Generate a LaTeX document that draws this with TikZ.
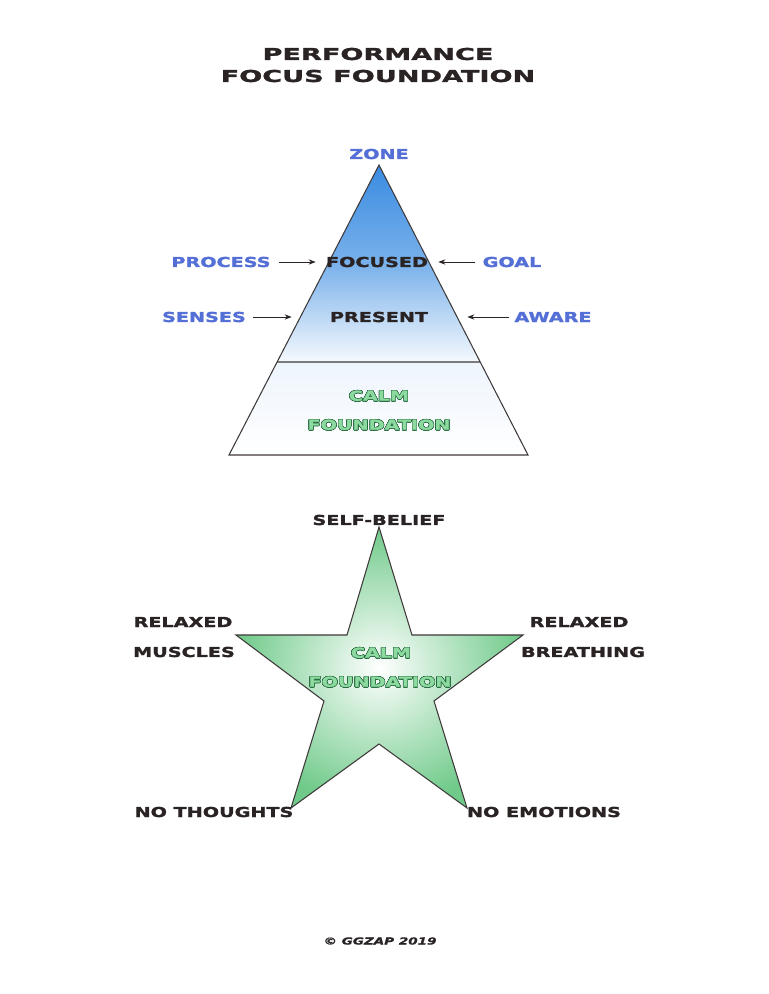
\documentclass[tikz,border=0pt]{standalone}
\usepackage{fontspec}
\usepackage{contour}
\usetikzlibrary{arrows.meta}
\newfontfamily\techfont{DejaVu Sans}[FakeStretch=1.4, BoldFeatures={FakeBold=1.6}, BoldItalicFeatures={FakeBold=1}]
\newfontfamily\titlefont{DejaVu Sans}[FakeStretch=1.66, BoldFeatures={FakeBold=1.8}]
\definecolor{inkdark}{RGB}{42,35,36}
\definecolor{zoneblue}{RGB}{84,112,214}
\definecolor{pyrblue}{RGB}{58,140,225}
\definecolor{calmfill}{RGB}{140,218,160}
\definecolor{calmedge}{RGB}{38,105,62}
\definecolor{stargreen}{RGB}{112,202,138}
\contourlength{0.3pt}
\tikzset{
  word/.style={inner sep=0pt, text=inkdark, font=\techfont\bfseries\fontsize{7.8}{9}\selectfont},
  bluword/.style={word, text=zoneblue},
  calmword/.style={word, text=calmfill},
  titleword/.style={inner sep=0pt, text=inkdark, font=\titlefont\bfseries\fontsize{9.3}{11}\selectfont},
  pointer/.style={-{Stealth[length=4pt,width=3pt]}, inkdark, line width=0.5pt},
  outline/.style={draw=inkdark!90, line width=0.6pt, line join=miter}
}

\begin{document}
\begin{tikzpicture}[x=0.02cm, y=-0.02cm]
  \useasboundingbox (0,0) rectangle (768,994);
  \fill [white] (0,0) rectangle (768,994);

  \node [titleword] (title1) at (378,54) {PERFORMANCE};
  \node [titleword] (title2) at (378,76) {FOCUS FOUNDATION};

  % pyramid
  \shade [top color=pyrblue, bottom color=pyrblue!5, middle color=pyrblue!68] (379,165) -- (277,362) -- (480,362) -- cycle;
  \shade [top color=pyrblue!9, bottom color=white] (277,362) -- (229,455) -- (528,455) -- (480,362) -- cycle;
  \draw [outline] (379,165) -- (229,455) -- (528,455) -- cycle (277,362) -- (480,362);

  \node [bluword] (zone) at (379,154) {ZONE};
  \node [word] (focused) at (377,262) {FOCUSED};
  \node [word] (present) at (379,317) {PRESENT};
  \node [bluword] (process) at (221,262) {PROCESS};
  \node [bluword] (goal) at (512,262) {GOAL};
  \node [bluword] (senses) at (204,317) {SENSES};
  \node [bluword] (aware) at (553,317) {AWARE};
  \node [calmword] (calm) at (379,396) {\contour{calmedge}{CALM}};
  \node [calmword] (foundation) at (379,425) {\contour{calmedge}{FOUNDATION}};

  \draw [pointer, shorten <=1.6mm, shorten >=2mm] (process) -- (focused);
  \draw [pointer, shorten <=1.4mm, shorten >=2mm] (goal) -- (focused);
  \draw [pointer, shorten <=1.4mm, shorten >=7.6mm] (senses) -- (present);
  \draw [pointer, shorten <=1mm, shorten >=7.8mm] (aware) -- (present);

  % star
  \shade [inner color=white, outer color=stargreen] (379,527) -- (412,635) -- (523,635) -- (434,701) -- (467,808) -- (379,744) -- (291,808) -- (324,701) -- (236,635) -- (347,635) -- cycle;
  \draw [outline] (379,527) -- (412,635) -- (523,635) -- (434,701) -- (467,808) -- (379,744) -- (291,808) -- (324,701) -- (236,635) -- (347,635) -- cycle;

  \foreach \name/\pos/\txt in {selfbelief/{379,520}/SELF-BELIEF, relaxedl/{183,622}/RELAXED, muscles/{184,652}/MUSCLES,
      relaxedr/{579,622}/RELAXED, breathing/{583,652}/BREATHING, nothoughts/{214,812}/NO THOUGHTS, noemotions/{544,812}/NO EMOTIONS} {
    \node [word] (\name) at (\pos) {\txt};
  }
  \node [calmword] (starcalm) at (381,653) {\contour{calmedge}{CALM}};
  \node [calmword] (starfound) at (380,682) {\contour{calmedge}{FOUNDATION}};

  \node [word, font=\techfont\bfseries\itshape\fontsize{5.5}{7}\selectfont] (copy) at (380,941) {© GGZAP 2019};
\end{tikzpicture}
\end{document}
